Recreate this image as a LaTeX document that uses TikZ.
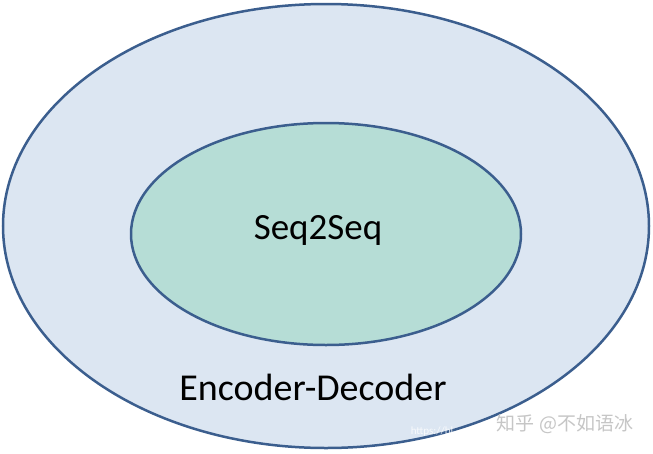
\documentclass[tikz,border=0pt]{standalone}
\usepackage{fontspec}
\setmainfont{Carlito}
\newfontfamily\cjk{Noto Sans CJK SC}
\definecolor{outerfill}{HTML}{DCE6F2}
\definecolor{innerfill}{HTML}{B6DDD6}
\definecolor{edge}{HTML}{3B5E8E}
\begin{document}
\begin{tikzpicture}[x=1pt,y=-1pt,
  ring/.style={draw=edge,line width=2.5pt}]
\useasboundingbox (0,0) rectangle (653,453);
\fill[white] (0,0) rectangle (653,453);
\path[ring,fill=outerfill] (326,226) ellipse [x radius=323,y radius=222];
\path[ring,fill=innerfill] (326,234) ellipse [x radius=195,y radius=111];
\node (inner) at (318,230) {\fontsize{37}{42}\selectfont Seq2Seq};
\node (outer) at (313,387) {\fontsize{38}{42}\selectfont Encoder-Decoder};
\node[text=white,opacity=0.8] (url) at (432,432) {\fontsize{11}{12}\selectfont https://bl};
\node[text=gray!45] (wm) at (565,424) {\cjk\fontsize{19}{22}\selectfont 知乎 @不如语冰};
\end{tikzpicture}
\end{document}
